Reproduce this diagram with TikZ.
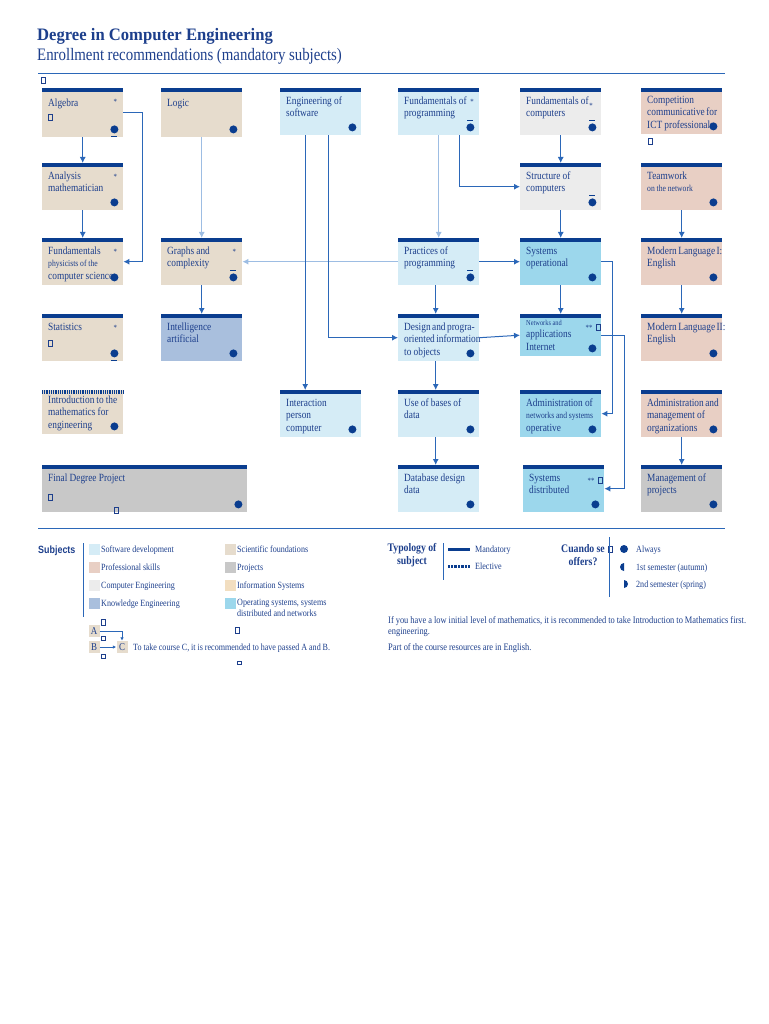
\documentclass[tikz,border=0pt]{standalone}
\usepackage{fontspec}
\setmainfont{Liberation Serif}
\newfontfamily\condfont{Liberation Serif}[FakeStretch=0.85,WordSpace=0.95]
\newfontfamily\titlefont{Liberation Serif}[FakeStretch=0.95]
\newfontfamily\condsans{Liberation Sans}[FakeStretch=0.85]
\usetikzlibrary{arrows.meta,calc,positioning}
\hyphenpenalty=10000 \exhyphenpenalty=10000 \hfuzz=60pt \hbadness=10000

\definecolor{barblue}{HTML}{0A3D8F}
\definecolor{txtblue}{HTML}{1D3F8C}
\definecolor{lineblue}{HTML}{2B67B8}
\definecolor{paleblue}{HTML}{9DBDE3}
\definecolor{softdev}{HTML}{D5ECF6}
\definecolor{profsk}{HTML}{E8CFC4}
\definecolor{compeng}{HTML}{ECECEC}
\definecolor{knoweng}{HTML}{A9BFDD}
\definecolor{scifound}{HTML}{E6DCCD}
\definecolor{projgrey}{HTML}{C8C8C8}
\definecolor{infosys}{HTML}{F2DEC0}
\definecolor{opsys}{HTML}{9CD7EC}

\begin{document}
\begin{tikzpicture}[
    x=1pt, y=-1pt,
    font=\condfont\fontsize{11}{12.5}\selectfont,
    >={Latex[length=6pt,width=6pt]},
    subj/.style={fill=#1, anchor=north west, text=txtblue,
        text width=69pt, align=flush left, inner xsep=6pt, inner ysep=6pt,
        text height=10pt, text depth=25pt},
    dot/.style={circle, fill=barblue, inner sep=0pt, minimum size=8pt},
    astk/.style={text=txtblue, inner sep=0pt,
        font=\condfont\fontsize{8}{8}\selectfont},
    tofu/.style={draw=txtblue, line width=0.5pt, inner sep=0pt,
        minimum width=4pt, minimum height=6pt},
    conn/.style={draw=lineblue, line width=1pt, ->},
    pale/.style={draw=paleblue, line width=1pt, ->},
    rule/.style={draw=lineblue, line width=0.8pt},
    sepline/.style={draw=lineblue, line width=1pt},
    legsq/.style={fill=#1, inner sep=0pt, minimum size=11pt},
    legtxt/.style={anchor=base west, text=txtblue, inner sep=0pt,
        font=\condfont\fontsize{9.5}{10.5}\selectfont},
    legtitle/.style={text=txtblue, inner sep=0pt, align=center,
        font=\condfont\bfseries\fontsize{11.5}{12.5}\selectfont},
    ]
    \useasboundingbox (0,0) rectangle (768,1024);

    % heading
    \node[anchor=base west, inner sep=0pt, text=txtblue,
        font=\titlefont\bfseries\fontsize{17.5}{20}\selectfont]
        (title) at (37,41) {Degree in Computer Engineering};
    \node[anchor=base west, inner sep=0pt, text=txtblue,
        font=\condfont\fontsize{17.5}{20}\selectfont]
        (subtitle) at (37,61) {Enrollment recommendations (mandatory subjects)};
    \draw[rule] (38,73) -- (725,73);
    \node[tofu] (t0) at (43,80) {};

    % scientific foundations
    \node[subj=scifound, text height=12pt] (alg) at (42,88) {Algebra};
    \node[subj=scifound] (ana) at (42,163) {Analysis\\mathematician};
    \node[subj=scifound] (fis) at (42,238)
        {Fundamentals\\{\fontsize{9}{10}\selectfont physicists~of~the}\\computer~science};
    \node[subj=scifound] (est) at (42,314) {Statistics};
    \node[subj=scifound, text height=7pt] (intro) at (42,390)
        {Introduction~to~the\\mathematics~for\\engineering};
    \node[subj=projgrey, text width=193pt] (tfg) at (42,465) {Final~Degree~Project};
    \node[subj=scifound, text height=12pt] (logic) at (161,88) {Logic};
    \node[subj=scifound] (graphs) at (161,238) {Graphs~and\\complexity};
    \node[subj=knoweng] (ia) at (161,314) {Intelligence\\artificial};

    % software development
    \node[subj=softdev] (engsw) at (280,88) {Engineering~of\\software};
    \node[subj=softdev] (ipc) at (280,390) {Interaction\\person\\computer};
    \node[subj=softdev] (fprog) at (398,88) {Fundamentals~of\\programming};
    \node[subj=softdev] (pprog) at (398,238) {Practices~of\\programming};
    \node[subj=softdev] (dpoo) at (398,314)
        {Design~and~progra-\\oriented~information\\to~objects};
    \node[subj=softdev] (ubd) at (398,390) {Use~of~bases~of\\data};
    \node[subj=softdev] (dbd) at (398,465) {Database~design\\data};

    % computer engineering, operating systems
    \node[subj=compeng] (fcomp) at (520,88) {Fundamentals~of\\computers};
    \node[subj=compeng] (ecomp) at (520,163) {Structure~of\\computers};
    \node[subj=opsys] (so) at (520,238) {Systems\\operational};
    \node[subj=opsys, text height=5pt] (xarxes) at (520,314)
        {{\fontsize{7.5}{9}\selectfont Networks~and}\\applications\\Internet};
    \node[subj=opsys] (aso) at (520,390)
        {Administration~of\\{\fontsize{9}{10}\selectfont networks~and~systems}\\operative};
    \node[subj=opsys] (sd) at (523,465) {Systems\\distributed};

    % professional skills, projects
    \node[subj=profsk, text height=9pt] (comp) at (641,88)
        {Competition\\communicative~for\\ICT~professionals};
    \node[subj=profsk] (team) at (641,163)
        {Teamwork\\{\fontsize{9}{10}\selectfont on~the~network}};
    \node[subj=profsk] (eng1) at (641,238) {Modern~Language~I:\\English};
    \node[subj=profsk] (eng2) at (641,314) {Modern~Language~II:\\English};
    \node[subj=profsk] (aeo) at (641,390)
        {Administration~and\\management~of\\organizations};
    \node[subj=projgrey] (gp) at (641,465) {Management~of\\projects};

    % bars, offer dots, marks
    \foreach \n in {alg,ana,fis,est,tfg,logic,graphs,ia,engsw,ipc,fprog,pprog,
        dpoo,ubd,dbd,fcomp,ecomp,so,xarxes,aso,sd,comp,team,eng1,eng2,aeo,gp}
        \fill[barblue] (\n.north west) rectangle ($(\n.north east)+(0,4)$);
    \draw[barblue, line width=4pt, dash pattern=on 1pt off 0.8pt]
        ($(intro.north west)+(0,2)$) -- ($(intro.north east)+(0,2)$);
    \foreach \n in {alg,ana,fis,est,intro,tfg,logic,graphs,ia,engsw,ipc,fprog,
        pprog,dpoo,ubd,dbd,fcomp,ecomp,so,xarxes,aso,sd,comp,team,eng1,eng2,aeo,gp}
        \node[dot] (\n-d) at ($(\n.south east)+(-9,-8)$) {};
    \foreach \n in {graphs,fprog,fcomp,ecomp,pprog}
        \draw[barblue, line width=0.8pt] ($(\n-d)+(-3,-7)$) -- ($(\n-d)+(3,-7)$);
    \foreach \n in {alg,est}
        \draw[barblue, line width=0.8pt] ($(\n-d)+(-3,7)$) -- ($(\n-d)+(3,7)$);
    \foreach \n in {alg,ana,fis,est,graphs}
        \node[astk] (\n-s) at ($(\n.north east)+(-8,14)$) {*};
    \node[astk] (fprog-s) at (472,102) {*};
    \node[astk] (fcomp-s) at (591,106) {*};
    \node[astk] (xarxes-s) at (589,328) {**};
    \node[tofu] (xarxes-q) at (598,327) {};
    \node[astk] (sd-s) at (591,481) {**};
    \node[tofu] (sd-q) at (600,480) {};
    \node[tofu] (alg-q) at (50,117) {};
    \node[tofu] (est-q) at (50,343) {};
    \node[tofu] (tfg-q) at (50,497) {};
    \node[tofu] (tfg-q2) at (116,510) {};
    \node[tofu] (comp-q) at (650,141) {};

    % recommendations
    \draw[conn] (alg) -- (ana);
    \draw[conn] (ana) -- (fis);
    \draw[conn] (alg.east) -- ++(19,0) |- (fis.east);
    \draw[pale] (logic) -- (graphs);
    \draw[conn] (graphs) -- (ia);
    \draw[pale] (pprog.west) -- (graphs.east);
    \draw[conn] (pprog.east) -- (so.west);
    \draw[pale] (fprog) -- (pprog);
    \draw[conn] ([xshift=21pt]fprog.south) |- (ecomp.west);
    \draw[conn] (fcomp) -- (ecomp);
    \draw[conn] (ecomp) -- (so);
    \draw[conn] (so) -- (xarxes);
    \draw[conn] (so.east) -- ++(11,0) |- (aso.east);
    \draw[conn] (xarxes.east) -- ++(23,0) |- (sd.east);
    \draw[conn] ([xshift=-15.5pt]engsw.south) -- ([xshift=-15.5pt]ipc.north);
    \draw[conn] ([xshift=7.5pt]engsw.south) |- (dpoo.west);
    \draw[conn] ([xshift=-3pt]pprog.south) -- ([xshift=-3pt]dpoo.north);
    \draw[conn] (dpoo.east) -- (xarxes.west);
    \draw[conn] ([xshift=-3pt]dpoo.south) -- ([xshift=-3pt]ubd.north);
    \draw[conn] ([xshift=-3pt]ubd.south) -- ([xshift=-3pt]dbd.north);
    \draw[conn] (team) -- (eng1);
    \draw[conn] (eng1) -- (eng2);
    \draw[conn] (aeo) -- (gp);

    \draw[rule] (38,528) -- (725,528);

    % legend: subjects
    \node[anchor=base west, inner sep=0pt, text=txtblue,
        font=\condsans\bfseries\fontsize{10.5}{12}\selectfont]
        (subjects) at (38,553) {Subjects};
    \draw[sepline] (83,543) -- (83,617);
    \foreach \c/\t [count=\i] in {softdev/Software development,
        profsk/Professional skills, compeng/Computer Engineering,
        knoweng/Knowledge Engineering}{
        \node[legsq=\c] (la\i) at (94,531+18*\i) {};
        \node[legtxt] (la\i-t) at (101,534+18*\i) {\t};
    }
    \foreach \c/\t [count=\i] in {scifound/Scientific foundations,
        projgrey/Projects, infosys/Information Systems}{
        \node[legsq=\c] (lb\i) at (230,531+18*\i) {};
        \node[legtxt] (lb\i-t) at (237,534+18*\i) {\t};
    }
    \node[legsq=opsys] (lb4) at (230,603) {};
    \node[legtxt, align=left] (lb4-t) at (237,616)
        {Operating systems, systems\\distributed and networks};
    \node[tofu] (lq1) at (103,622) {};
    \node[tofu] (lq2) at (237,630) {};

    % legend: example
    \node[legsq=scifound, minimum height=12pt, text=txtblue,
        font=\condfont\fontsize{10.5}{11}\selectfont] (A) at (94,631) {A};
    \node[legsq=scifound, minimum height=12pt, text=txtblue,
        font=\condfont\fontsize{10.5}{11}\selectfont] (B) at (94,647) {B};
    \node[legsq=scifound, minimum height=12pt, text=txtblue,
        font=\condfont\fontsize{10.5}{11}\selectfont] (C) at (122,647) {C};
    \draw[conn, line width=0.8pt, >={Latex[length=3.5pt,width=3.5pt]}]
        (A.east) -| (C.north);
    \draw[conn, line width=0.8pt, >={Latex[length=3.5pt,width=3.5pt]}]
        (B.east) -- (C.west);
    \node[tofu, minimum height=4pt] (lq3) at (103,638) {};
    \node[tofu, minimum height=4pt] (lq4) at (103,656) {};
    \node[legtxt] (abcnote) at (133,650)
        {To take course C, it is recommended to have passed A and B.};
    \node[tofu, minimum height=3pt] (lq5) at (239,663) {};

    % legend: typology
    \node[legtitle] (typ) at (412,555) {Typology of\\subject};
    \draw[sepline] (443,543) -- (443,580);
    \draw[barblue, line width=3pt] (448,549) -- (470,549);
    \draw[barblue, line width=3pt, dash pattern=on 0.7pt off 0.7pt]
        (448,566) -- (470,566);
    \node[legtxt] (mand) at (475,552) {Mandatory};
    \node[legtxt] (elec) at (475,569) {Elective};

    % legend: offer
    \node[legtitle] (cuando) at (583,555) {Cuando se\\offers?};
    \node[tofu] (cq) at (610,549) {};
    \draw[sepline] (609,537) -- (609,597);
    \node[dot] (always) at (624,549) {};
    \fill[barblue] (624,571) arc[start angle=90, end angle=270, radius=4] -- cycle;
    \fill[barblue] (624,580) arc[start angle=-90, end angle=90, radius=4] -- cycle;
    \node[legtxt] (alw) at (636,552) {Always};
    \node[legtxt] (sem1) at (636,570) {1st semester (autumn)};
    \node[legtxt] (sem2) at (636,587) {2nd semester (spring)};

    % notes
    \node[legtxt, font=\condfont\fontsize{9.9}{11}\selectfont] (note1) at (388,623)
        {If you have a low initial level of mathematics, it is recommended
        to take Introduction to Mathematics first.};
    \node[legtxt, font=\condfont\fontsize{9.9}{11}\selectfont] (note2) at (388,634)
        {engineering.};
    \node[legtxt, font=\condfont\fontsize{9.9}{11}\selectfont] (note3) at (388,650)
        {Part of the course resources are in English.};
\end{tikzpicture}
\end{document}
